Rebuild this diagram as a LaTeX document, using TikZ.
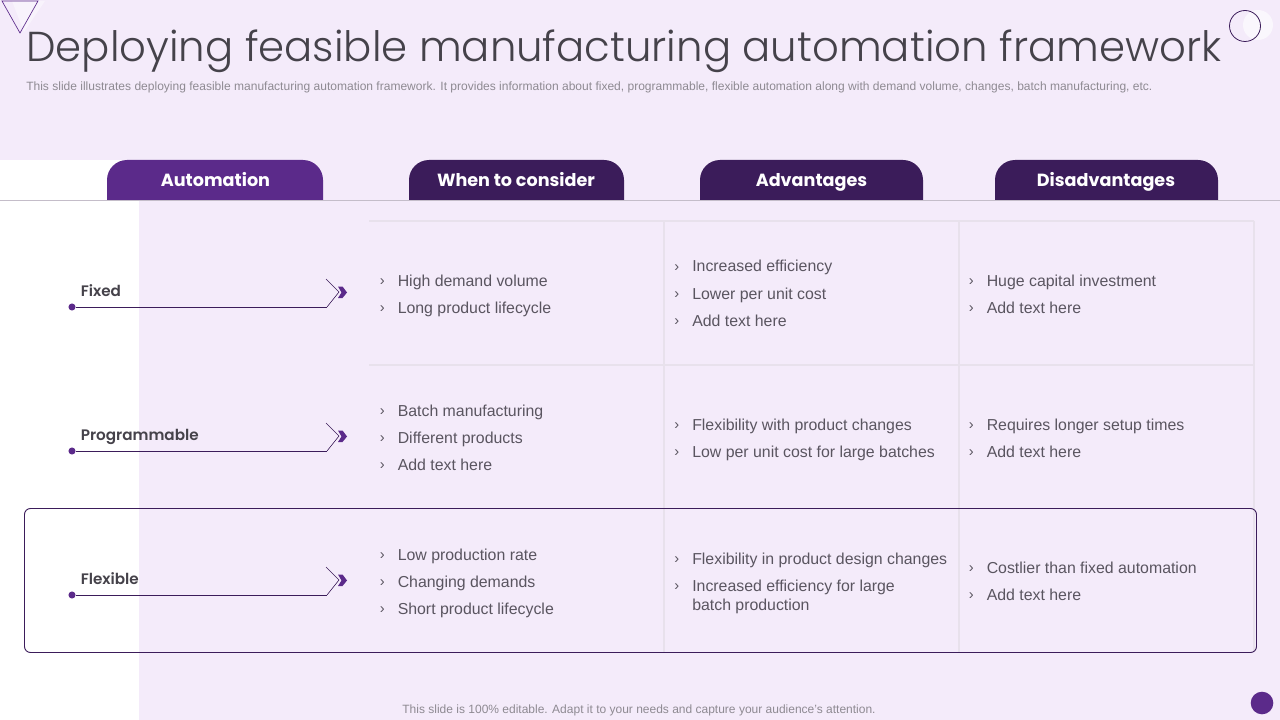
\documentclass[tikz,border=0pt]{standalone}
\usepackage{fontspec}
\setmainfont{Liberation Sans}
\newfontfamily\geo{Poppins}
\newfontfamily\geolight[UprightFont={* Light},BoldFont={* SemiBold}]{Poppins}
\definecolor{lilac}{HTML}{F4EBFA}
\definecolor{tabA}{HTML}{5B2A8A}
\definecolor{tabB}{HTML}{3B1C5A}
\definecolor{gridc}{HTML}{E8E1EC}
\definecolor{rulec}{HTML}{C4BDC9}
\definecolor{bodytxt}{HTML}{5A5560}
\definecolor{titletxt}{HTML}{45424A}
\definecolor{subtxt}{HTML}{8E8A92}
\tikzset{
  x=0.75pt,y=-0.75pt,
  tabtext/.style={text=white,font=\geo\fontsize{13.2}{16}\selectfont\bfseries,anchor=base},
  rowlabel/.style={text=titletxt,font=\geolight\fontsize{11.4}{14}\selectfont\bfseries,anchor=base west,inner sep=0pt},
  celltext/.style={text=bodytxt,font=\fontsize{11.9}{14}\selectfont,anchor=base west,inner sep=0pt},
  bullet/.style={text=bodytxt,font=\fontsize{11}{14}\selectfont,anchor=base west,inner sep=0pt},
  gridline/.style={draw=gridc,line width=0.9pt},
  leader/.style={draw=tabB,line width=0.65pt},
  tipline/.style={draw=tabB,line width=0.45pt},
  chev/.style={fill=tabA,draw=none},
  rowdot/.style={circle,fill=tabA,inner sep=0pt,minimum size=5.3pt},
}
\newcommand{\rowleader}[3]{%
  \node[rowdot] (d#1) at (72,#2+16) {};
  \coordinate (e#1) at (327,#2+16);
  \coordinate (t#1) at (339,#2+1);
  \coordinate (b#1) at (326,#2-12);
  \draw[leader] (d#1) -- (e#1);
  \draw[tipline] (e#1) -- (t#1) -- (b#1);
  \fill[chev] (338,#2-4.5) -- (342.5,#2-4.5) -- (347,#2+1.5) -- (342.5,#2+7) -- (338,#2+7) -- (341.5,#2+1.5) -- cycle;
  \node[rowlabel] (l#1) at (80.5,#2+5) {#3};
}
\newcommand{\cellline}[4]{% name, x of bullet, baseline, text
  \node[bullet] (b#1) at (#2,#3-1) {›};
  \node[celltext] (c#1) at (#2+18,#3) {#4};
}
\begin{document}
\begin{tikzpicture}
\useasboundingbox (0,0) rectangle (1280,720);
\fill[lilac] (0,0) rectangle (1280,720);
\fill[white] (0,160) rectangle (139,720);
% decorations
\fill[white,opacity=.4] (12,1) -- (45,1) -- (24,32) -- cycle;
\draw[tabA,line width=0.5pt] (2,1) -- (38,1) -- (20,33) -- cycle;
\fill[white,opacity=.6] (1258,25) circle (15);
\draw[tabB,line width=0.6pt] (1245,26) circle (15.5);
\fill[tabA] (1262,703) circle (11.3);
% title
\node[text=titletxt,anchor=base west,inner sep=0pt,font=\geolight\fontsize{31.37}{40}\selectfont] (title) at (26,62) {Deploying feasible manufacturing automation framework};
\node[text=subtxt,anchor=base west,inner sep=0pt,font=\fontsize{9.02}{11}\selectfont] (sub) at (26,90.5) {This slide illustrates deploying feasible manufacturing automation framework. It provides information about fixed, programmable, flexible automation along with demand volume, changes, batch manufacturing, etc.};
% rule
\draw[rulec,line width=0.8pt] (0,200.5) -- (1280,200.5);
% tabs
\fill[tabA] (107,200) [rounded corners=15pt] -- (107,160) -- (323,160) [sharp corners] -- (323,200) -- cycle;
\fill[tabB] (409,200) [rounded corners=15pt] -- (409,160) -- (624,160) [sharp corners] -- (624,200) -- cycle;
\fill[tabB] (700,200) [rounded corners=15pt] -- (700,160) -- (923,160) [sharp corners] -- (923,200) -- cycle;
\fill[tabB] (995,200) [rounded corners=15pt] -- (995,160) -- (1218,160) [sharp corners] -- (1218,200) -- cycle;
\node[tabtext] (h1) at (215.5,186.5) {Automation};
\node[tabtext] (h2) at (516,186.5) {When to consider};
\node[tabtext] (h3) at (811.5,186.5) {Advantages};
\node[tabtext] (h4) at (1106,186.5) {Disadvantages};
% grid
\draw[gridline] (369,221) -- (1254,221);
\draw[gridline] (369,365) -- (1254,365);
\draw[gridline] (369,508.5) -- (1254,508.5);
\draw[gridline] (664,221) -- (664,652);
\draw[gridline] (959,221) -- (959,652);
\draw[gridline] (1254,221) -- (1254,652);
% highlighted frame
\draw[tabB,line width=0.7pt,rounded corners=4.5pt] (24.5,508.5) rectangle (1256.5,652.5);
% rows
\rowleader{a}{291}{Fixed}
\rowleader{b}{435}{Programmable}
\rowleader{c}{579}{Flexible}
% cells
\cellline{a1}{379.5}{286}{High demand volume}
\cellline{a2}{379.5}{313}{Long product lifecycle}
\cellline{a3}{674}{272}{Increased efficiency}
\cellline{a4}{674}{299}{Lower per unit cost}
\cellline{a5}{674}{326}{Add text here}
\cellline{a6}{968.5}{286}{Huge capital investment}
\cellline{a7}{968.5}{313}{Add text here}
\cellline{b1}{379.5}{416}{Batch manufacturing}
\cellline{b2}{379.5}{443}{Different products}
\cellline{b3}{379.5}{470}{Add text here}
\cellline{b4}{674}{430}{Flexibility with product changes}
\cellline{b5}{674}{457}{Low per unit cost for large batches}
\cellline{b6}{968.5}{430}{Requires longer setup times}
\cellline{b7}{968.5}{457}{Add text here}
\cellline{c1}{379.5}{560}{Low production rate}
\cellline{c2}{379.5}{587}{Changing demands}
\cellline{c3}{379.5}{614}{Short product lifecycle}
\cellline{c4}{674}{564}{Flexibility in product design changes}
\cellline{c5}{674}{591}{Increased efficiency for large}
\node[celltext] (c5b) at (692,610) {batch production};
\cellline{c6}{968.5}{573}{Costlier than fixed automation}
\cellline{c7}{968.5}{600}{Add text here}
% footer
\node[text=subtxt,anchor=base,inner sep=0pt,font=\fontsize{9}{11}\selectfont] (foot) at (639,713) {This slide is 100\% editable. Adapt it to your needs and capture your audience's attention.};
\end{tikzpicture}
\end{document}
